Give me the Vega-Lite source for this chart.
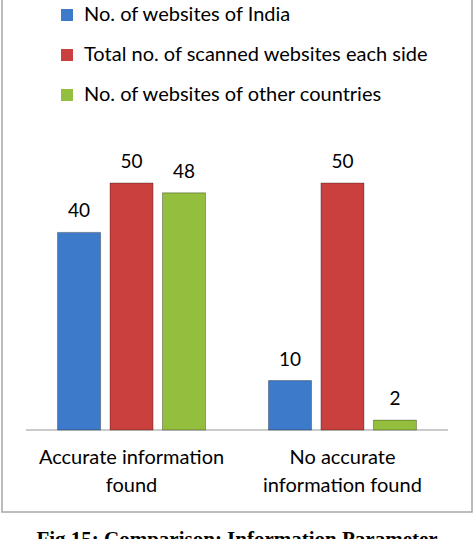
{
  "$schema": "https://vega.github.io/schema/vega-lite/v6.json",
  "width": 470,
  "height": 515,
  "padding": {"left": 2, "top": -3, "right": 2, "bottom": 0},
  "background": "white",
  "title": {
    "text": "Fig 15: Comparison: Information Parameter",
    "orient": "bottom",
    "anchor": "middle",
    "offset": 17,
    "font": "Liberation Serif",
    "fontSize": 21,
    "fontWeight": "bold",
    "color": "#000000"
  },
  "data": {
    "values": [
      {"finding": "Accurate information found", "series": "No. of websites of India", "websites": 40},
      {"finding": "Accurate information found", "series": "Total no. of scanned websites each side", "websites": 50},
      {"finding": "Accurate information found", "series": "No. of websites of other countries", "websites": 48},
      {"finding": "No accurate information found", "series": "No. of websites of India", "websites": 10},
      {"finding": "No accurate information found", "series": "Total no. of scanned websites each side", "websites": 50},
      {"finding": "No accurate information found", "series": "No. of websites of other countries", "websites": 2}
    ]
  },
  "encoding": {
    "x": {
      "field": "finding",
      "type": "nominal",
      "sort": null,
      "scale": {"paddingInner": 0, "paddingOuter": 0.114},
      "axis": {
        "title": null,
        "orient": "bottom",
        "offset": -82,
        "domain": false,
        "ticks": false,
        "labelAngle": 0,
        "labelFont": "Lato",
        "labelFontSize": 20,
        "labelColor": "#000000",
        "labelPadding": 17,
        "labelBaseline": "top",
        "labelLineHeight": 28,
        "labelLimit": 400,
        "labelExpr": "datum.label == 'Accurate information found' ? ['Accurate information', 'found'] : ['No accurate', 'information found']"
      }
    },
    "y": {
      "field": "websites",
      "type": "quantitative",
      "scale": {"domain": [-16.6, 87.65], "nice": false, "zero": false},
      "axis": null
    }
  },
  "layer": [
    {
      "mark": {"type": "tick", "size": 211, "thickness": 1, "color": "#b8b8b8"},
      "encoding": {
        "y": {"datum": 0}
      }
    },
    {
      "mark": {"type": "bar", "stroke": "#000000", "strokeOpacity": 0.3, "strokeWidth": 1},
      "encoding": {
        "xOffset": {
          "field": "series",
          "type": "nominal",
          "sort": null,
          "scale": {"paddingInner": 0.18, "paddingOuter": 0.6}
        },
        "y2": {"datum": 0},
        "color": {
          "field": "series",
          "type": "nominal",
          "sort": null,
          "scale": {
            "domain": ["No. of websites of India", "Total no. of scanned websites each side", "No. of websites of other countries"],
            "range": ["#3d7ac9", "#c9403e", "#94be3e"]
          },
          "legend": {
            "title": null,
            "orient": "none",
            "legendX": 55,
            "legendY": 8,
            "direction": "vertical",
            "symbolType": "square",
            "symbolSize": 144,
            "symbolStrokeWidth": 0,
            "labelFont": "Lato",
            "labelFontSize": 20,
            "labelColor": "#000000",
            "labelOffset": 7,
            "labelLimit": 500,
            "rowPadding": 20
          }
        }
      }
    },
    {
      "mark": {"type": "text", "baseline": "alphabetic", "dy": -15, "font": "Lato", "fontSize": 19, "color": "#000000"},
      "encoding": {
        "xOffset": {"field": "series", "type": "nominal", "sort": null},
        "text": {"field": "websites", "type": "quantitative"}
      }
    }
  ],
  "config": {
    "view": {"stroke": "#a6a6a6", "strokeWidth": 1.5}
  }
}
